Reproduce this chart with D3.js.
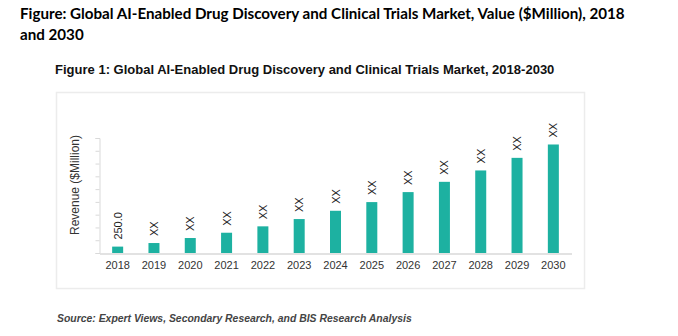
<!DOCTYPE html>
<html><head><meta charset="utf-8">
<script src="https://cdn.jsdelivr.net/npm/d3@7"></script>
<style>body{margin:0;background:#fff}svg{display:block}</style>
</head><body>
<svg id="c" width="678" height="336"></svg>
<script>
const years = ["2018","2019","2020","2021","2022","2023","2024","2025","2026","2027","2028","2029","2030"];
const values = [250, 390, 586, 793, 1043, 1328, 1652, 1992, 2383, 2785, 3230, 3723, 4246];
const valueLabels = ["250.0","XX","XX","XX","XX","XX","XX","XX","XX","XX","XX","XX","XX"];
const yTicks = [0,500,1000,1500,2000,2500,3000,3500,4000,4500];
const titleLines = ["Figure: Global AI-Enabled Drug Discovery and Clinical Trials Market, Value ($Million), 2018","and 2030"];
const subtitle = "Figure 1: Global AI-Enabled Drug Discovery and Clinical Trials Market, 2018-2030";
const yTitle = "Revenue ($Million)";
const source = "Source: Expert Views, Secondary Research, and BIS Research Analysis";

const svg = d3.select("#c");

function fit(sel, target){
  const w = sel.node().getComputedTextLength();
  const fs = parseFloat(sel.attr("font-size"));
  sel.attr("font-size", (fs*target/w).toFixed(2));
}
function squeeze(sel, x0, y0, target){
  const w = sel.node().getComputedTextLength();
  sel.attr("transform", `translate(${x0},${y0}) scale(${(target/w).toFixed(4)},1)`);
}

// Main title
const t1 = svg.append("text").attr("x",20).attr("y",19).attr("font-family","Lato, 'Open Sans', sans-serif")
  .attr("font-weight","bold").attr("font-size",15).attr("fill","#000").text(titleLines[0]);
fit(t1, 605);
svg.append("text").attr("x",20).attr("y",40).attr("font-family","Lato, 'Open Sans', sans-serif")
  .attr("font-weight","bold").attr("font-size",t1.attr("font-size")).attr("fill","#000").text(titleLines[1]);

// Subtitle
const st = svg.append("text").attr("font-family","'Liberation Sans', Arial, sans-serif")
  .attr("font-weight","bold").attr("font-size",13).attr("fill","#111").text(subtitle);
squeeze(st, 55, 73.5, 500);

// chart frame
svg.append("rect").attr("x",56.5).attr("y",92.5).attr("width",528).attr("height",196)
  .attr("fill","none").attr("stroke","#ececec").attr("stroke-width",1.5);

const x = d3.scaleBand().domain(years).range([99.5, 571.5]).paddingInner(0.697).paddingOuter(0.3485);
const y = d3.scaleLinear().domain([0, 4500]).range([253, 138]);

// y axis
const ya = svg.append("g").attr("transform","translate(99.5,0)")
  .call(d3.axisLeft(y).tickValues(yTicks).tickSize(4).tickFormat(""));
ya.selectAll("path").attr("stroke","#d9d9d9");
ya.selectAll("line").attr("stroke","#d9d9d9");

// x axis
const xa = svg.append("g").attr("transform","translate(0,253.5)")
  .call(d3.axisBottom(x).tickSize(0).tickPadding(8));
xa.select("path").attr("stroke","#d9d9d9").attr("stroke-width",1.5);
xa.selectAll("text").attr("font-family","'Liberation Sans', Arial, sans-serif").attr("font-size",11).attr("fill","#333");

// bars
svg.append("g").selectAll("rect").data(years).join("rect")
  .attr("x", d => x(d)).attr("width", x.bandwidth())
  .attr("y", (d,i) => y(values[i])).attr("height", (d,i) => y(0) - y(values[i]))
  .attr("fill","#1db1a1");

// value labels
svg.append("g").selectAll("text").data(years).join("text")
  .attr("transform", (d,i) => `translate(${x(d)+x.bandwidth()/2+4},${y(values[i])-7}) rotate(-90)`)
  .attr("font-family","'Liberation Sans', Arial, sans-serif").attr("font-size",11).attr("fill","#222")
  .text((d,i) => valueLabels[i]);

// y title
svg.append("text").attr("transform","translate(79,185) rotate(-90)").attr("text-anchor","middle")
  .attr("font-family","'Liberation Sans', Arial, sans-serif").attr("font-size",12).attr("fill","#333").text(yTitle);

// source
const so = svg.append("text").attr("font-family","'Liberation Sans', Arial, sans-serif")
  .attr("font-weight","bold").attr("font-style","italic").attr("font-size",10.5).attr("fill","#444").text(source);
squeeze(so, 57, 322, 355);
</script>
</body></html>
